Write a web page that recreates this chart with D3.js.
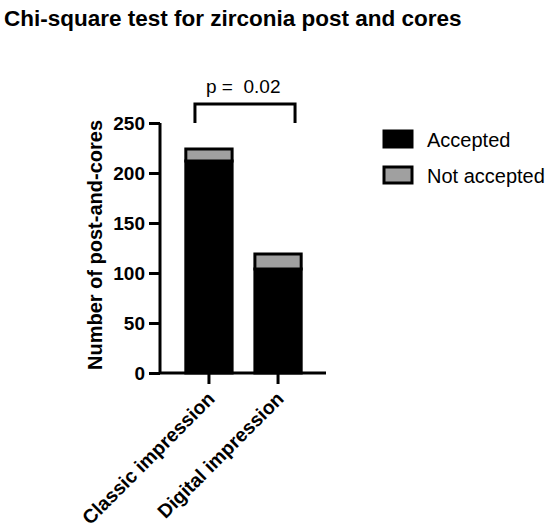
<!DOCTYPE html>
<html><head><meta charset="utf-8">
<script src="https://cdn.jsdelivr.net/npm/d3@7"></script>
<style>body{margin:0;background:#fff}svg{display:block}</style>
</head><body>
<script>
const categories = ["Classic impression", "Digital impression"];
const accepted = [212, 104];
const notAccepted = [12, 15];
const seriesNames = ["Accepted", "Not accepted"];
const seriesColors = ["#000000", "#a0a0a0"];
const yTicks = [0, 50, 100, 150, 200, 250];
const pLabel = "p =\u00a0\u00a00.02";
const title = "Chi-square test for zirconia post and cores";
const yTitle = "Number of post-and-cores";

const W = 550, H = 529;
const svg = d3.select("body").append("svg").attr("width", W).attr("height", H);
const font = "Arial, 'Liberation Sans', sans-serif";

svg.append("text").attr("x", 4).attr("y", 26).attr("font-family", font)
  .attr("font-weight", "bold").attr("font-size", 22.5).attr("fill", "#000").text(title);

const x0 = 160, x1 = 326;
const y = d3.scaleLinear().domain([0, 250]).range([373, 123]);
const x = d3.scaleBand().domain(categories).range([x0 + 12, x1 - 11]).paddingInner(0.33).paddingOuter(0.2);

const data = categories.map((c, i) => ({cat: c, Accepted: accepted[i], "Not accepted": notAccepted[i]}));
const stack = d3.stack().keys(seriesNames)(data);

const g = svg.append("g");
stack.forEach((s, si) => {
  g.selectAll(null).data(s).enter().append("rect")
    .attr("x", d => x(d.data.cat))
    .attr("width", x.bandwidth())
    .attr("y", d => y(d[1]))
    .attr("height", d => y(d[0]) - y(d[1]))
    .attr("fill", seriesColors[si])
    .attr("stroke", "#000").attr("stroke-width", 3);
});

// axes
const yAxis = svg.append("g").attr("transform", `translate(${x0},0)`)
  .call(d3.axisLeft(y).tickValues(yTicks).tickSize(11).tickPadding(4));
yAxis.select(".domain").attr("stroke-width", 3).attr("d", `M0,${y(250)}V${y(0)}`);
yAxis.selectAll(".tick line").attr("stroke-width", 3);
yAxis.selectAll(".tick text").attr("font-family", font).attr("font-size", 19).attr("font-weight", "bold").attr("fill", "#000");

const xAxis = svg.append("g").attr("transform", `translate(0,${y(0)})`)
  .call(d3.axisBottom(x).tickSize(11).tickFormat(""));
xAxis.select(".domain").attr("stroke-width", 3).attr("d", `M${x0},0H${x1}`);
xAxis.selectAll(".tick line").attr("stroke-width", 3);

categories.forEach(c => {
  const cx = x(c) + x.bandwidth() / 2;
  svg.append("text").attr("transform", `translate(${cx + 7},${y(0) + 27}) rotate(-45)`)
    .attr("text-anchor", "end").attr("font-family", font).attr("font-weight", "bold")
    .attr("font-size", 19.5).attr("fill", "#000").text(c);
});

svg.append("text").attr("transform", `translate(102,245) rotate(-90)`)
  .attr("text-anchor", "middle").attr("font-family", font).attr("font-weight", "bold")
  .attr("font-size", 20).attr("fill", "#000").text(yTitle);

// significance bracket
const bx0 = x(categories[0]) + x.bandwidth() / 2 - 14;
const bx1 = x(categories[1]) + x.bandwidth() / 2 + 17;
svg.append("path").attr("d", `M${bx0},123V104H${bx1}V123`)
  .attr("fill", "none").attr("stroke", "#000").attr("stroke-width", 3);
svg.append("text").attr("x", 206).attr("y", 92.5)
  .attr("font-family", font).attr("font-size", 19).attr("fill", "#000").text(pLabel);

// legend
seriesNames.forEach((n, i) => {
  const ly = 131 + i * 36;
  svg.append("rect").attr("x", 384).attr("y", ly).attr("width", 28).attr("height", 16)
    .attr("fill", seriesColors[i]).attr("stroke", "#000").attr("stroke-width", 3);
  svg.append("text").attr("x", 427).attr("y", ly + 15.5).attr("font-family", font)
    .attr("font-size", 20).attr("fill", "#000").text(n);
});
</script>
</body></html>
